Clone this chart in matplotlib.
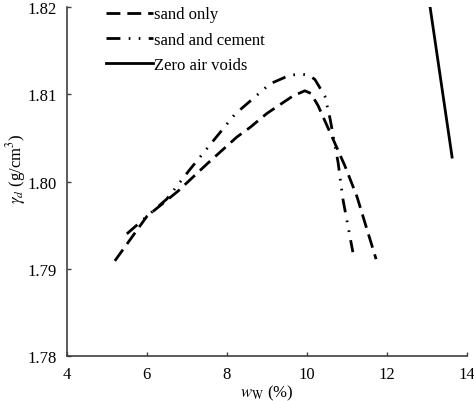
import matplotlib
matplotlib.use('Agg')
import matplotlib.pyplot as plt

plt.rcParams['font.family'] = ['Liberation Serif', 'DejaVu Serif']
plt.rcParams['mathtext.fontset'] = 'stix'

# sand only
w_sand = [5.2, 6.0, 6.78, 7.5, 8.25, 8.58, 9.0, 9.65, 9.95, 10.1, 10.28, 10.65, 10.95, 11.25, 11.73]
g_sand = [1.7909, 1.7960, 1.7989, 1.8020, 1.8051, 1.8062, 1.8078, 1.8098, 1.8104, 1.8101, 1.8087, 1.8049, 1.8018, 1.7983, 1.7911]

# sand and cement
w_cem = [5.5, 6.5, 7.08, 8.2, 9.08, 9.58, 9.87, 10.05, 10.2, 10.45, 10.58, 10.78, 10.9, 11.15]
g_cem = [1.7940, 1.7980, 1.8014, 1.8077, 1.8112, 1.8122, 1.8123, 1.8122, 1.8117, 1.8098, 1.8072, 1.8022, 1.7980, 1.7919]

# zero air voids
w_zav = [13.08, 13.63]
g_zav = [1.8200, 1.8028]

fig = plt.figure(figsize=(4.74, 4.02), dpi=100)
ax = fig.add_axes([0.141, 0.112, 0.844, 0.868])

ax.plot(w_sand, g_sand, color='black', lw=2.0, dashes=(5, 2.5), label='sand only')
ax.plot(w_cem, g_cem, color='black', lw=2.0, dashes=(5, 3, 0.6, 3, 0.6, 3), label='sand and cement')
ax.plot(w_zav, g_zav, color='black', lw=2.0, label='Zero air voids')

ax.set_xlim(4, 14)
ax.set_ylim(1.78, 1.82)
ax.set_xticks([4, 6, 8, 10, 12, 14])
ax.set_yticks([1.78, 1.79, 1.80, 1.81, 1.82])
ax.set_yticklabels(['1.78', '1.79', '1.80', '1.81', '1.82'])
ax.tick_params(direction='in', length=3, width=1, labelsize=12, color='#404040', pad=7)

for s in ['top', 'right']:
    ax.spines[s].set_visible(False)
for s in ['left', 'bottom']:
    ax.spines[s].set_color('#404040')
    ax.spines[s].set_linewidth(1.2)

ax.set_xlabel(r'$w_{\mathrm{W}}$ (%)', fontsize=12, labelpad=1)
ax.set_ylabel(r'$\gamma_{d}$ (g/cm$^3$)', fontsize=12)
ax.yaxis.set_label_coords(-0.098, 0.54)

ax.legend(loc='upper left', bbox_to_anchor=(0.06, 1.045), frameon=False, fontsize=12,
          handlelength=2.8, handletextpad=0.1, labelspacing=0.55)

fig.savefig('out.png', dpi=100)
